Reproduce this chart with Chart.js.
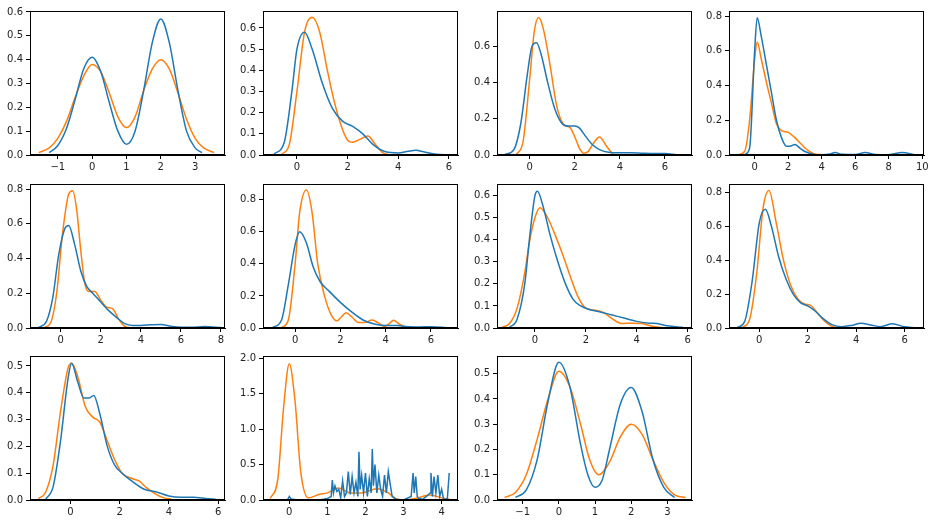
<!DOCTYPE html>
<html><head><meta charset="utf-8">
<script src="https://cdn.jsdelivr.net/npm/chart.js@4/dist/chart.umd.min.js"></script>
<style>body{margin:0;background:#fff;width:936px;height:524px;position:relative;overflow:hidden}canvas{position:absolute}</style>
</head><body>
<script>
const BLUE='#1f77b4', ORANGE='#ff7f0e';
// subplot 1
const p1bx=[-1.25,-1,-0.75,-0.5,-0.25,0,0.25,0.5,0.75,1,1.25,1.5,1.75,2,2.25,2.5,2.75,3,3.2];
const p1by=[0.01,0.04,0.11,0.23,0.36,0.41,0.35,0.22,0.10,0.045,0.10,0.27,0.47,0.57,0.47,0.27,0.10,0.03,0.01];
const p1ox=[-1.55,-1.25,-1,-0.75,-0.5,-0.25,0,0.25,0.5,0.75,1,1.25,1.5,1.75,2,2.25,2.5,2.75,3,3.25,3.55];
const p1oy=[0.01,0.03,0.07,0.14,0.24,0.33,0.38,0.35,0.26,0.16,0.115,0.16,0.27,0.36,0.40,0.36,0.26,0.15,0.07,0.03,0.01];
// subplot 2
const p2bx=[-0.9,-0.5,-0.2,0,0.3,0.6,1,1.4,1.8,2.2,2.6,3,3.5,4,4.4,4.7,5,5.5,6];
const p2by=[0.005,0.06,0.3,0.5,0.58,0.5,0.34,0.22,0.16,0.135,0.1,0.05,0.015,0.01,0.018,0.022,0.015,0.003,0.0];
const p2ox=[-0.6,-0.3,0,0.3,0.6,0.9,1.2,1.5,1.8,2.0,2.2,2.5,2.8,3.1,3.4,3.6];
const p2oy=[0.003,0.05,0.3,0.58,0.65,0.58,0.4,0.24,0.12,0.07,0.06,0.075,0.09,0.05,0.01,0.002];
// subplot 3
const p3bx=[-1.1,-0.7,-0.4,-0.1,0.1,0.3,0.5,0.8,1.1,1.4,1.7,2.0,2.2,2.5,2.8,3.1,3.5,4,4.5,5,5.5,6,6.5];
const p3by=[0.003,0.03,0.17,0.45,0.6,0.62,0.56,0.4,0.26,0.18,0.16,0.16,0.15,0.1,0.055,0.03,0.015,0.012,0.013,0.01,0.008,0.008,0.002];
const p3ox=[-0.6,-0.3,0,0.2,0.4,0.6,0.9,1.2,1.5,1.8,2.0,2.2,2.4,2.6,2.8,3.1,3.4,3.7];
const p3oy=[0.003,0.07,0.42,0.68,0.76,0.7,0.5,0.27,0.17,0.15,0.1,0.04,0.01,0.02,0.06,0.1,0.05,0.002];
// subplot 4
const p4bx=[-0.6,-0.3,0,0.15,0.4,0.7,1,1.3,1.6,1.9,2.1,2.4,2.7,3,3.5,4,4.5,4.8,5.2,6,6.6,7.2,8,8.8,9.5];
const p4by=[0.002,0.04,0.6,0.79,0.68,0.52,0.36,0.2,0.1,0.05,0.05,0.06,0.04,0.02,0.005,0.002,0.006,0.015,0.004,0.003,0.015,0.003,0.002,0.015,0.003];
const p4ox=[-1,-0.6,-0.3,0,0.15,0.4,0.7,1,1.3,1.6,2,2.4,2.8,3.2,3.6,4];
const p4oy=[0.002,0.02,0.2,0.55,0.65,0.55,0.42,0.3,0.18,0.14,0.13,0.1,0.06,0.025,0.005,0.002];
// subplot 5
const p5bx=[-1.1,-0.7,-0.4,-0.1,0.2,0.4,0.7,1,1.3,1.6,2,2.4,2.8,3.2,3.6,4,4.5,5,5.5,6,6.5,7.2,8];
const p5by=[0.003,0.04,0.17,0.42,0.57,0.59,0.48,0.33,0.24,0.2,0.15,0.1,0.06,0.025,0.015,0.015,0.018,0.02,0.01,0.004,0.004,0.008,0.003];
const p5ox=[-0.8,-0.5,-0.2,0.1,0.4,0.6,0.8,1.0,1.2,1.4,1.7,2,2.3,2.6,2.9,3.2,3.5];
const p5oy=[0.003,0.03,0.2,0.55,0.77,0.79,0.68,0.45,0.26,0.21,0.21,0.16,0.12,0.11,0.05,0.01,0.002];
// subplot 6
const p6bx=[-1,-0.6,-0.3,0,0.2,0.5,0.8,1.1,1.5,2,2.5,3,3.5,4,4.5,5,5.5,6,6.7];
const p6by=[0.003,0.05,0.27,0.52,0.6,0.53,0.38,0.29,0.23,0.16,0.1,0.05,0.025,0.015,0.015,0.008,0.007,0.008,0.002];
const p6ox=[-0.6,-0.3,0,0.2,0.5,0.75,1.0,1.3,1.6,1.85,2.05,2.25,2.5,2.8,3.1,3.4,3.7,3.95,4.15,4.35,4.6,4.9];
const p6oy=[0.003,0.05,0.4,0.72,0.86,0.72,0.4,0.2,0.08,0.045,0.07,0.095,0.07,0.035,0.035,0.05,0.03,0.01,0.025,0.048,0.025,0.002];
// subplot 7
const p7bx=[-1.0,-0.7,-0.4,-0.2,0,0.1,0.3,0.6,0.9,1.2,1.5,1.8,2.1,2.5,3,3.5,4,4.5,4.8,5.2,5.8];
const p7by=[0.003,0.04,0.2,0.42,0.6,0.62,0.56,0.42,0.3,0.2,0.13,0.1,0.085,0.075,0.06,0.045,0.03,0.022,0.02,0.01,0.003];
const p7ox=[-1.3,-1,-0.7,-0.4,-0.2,0,0.2,0.5,0.8,1.1,1.4,1.7,2,2.4,2.7,3,3.4,3.8,4.2,4.6,5];
const p7oy=[0.003,0.02,0.09,0.25,0.4,0.5,0.545,0.5,0.42,0.33,0.23,0.14,0.09,0.08,0.07,0.045,0.02,0.022,0.02,0.008,0.002];
// subplot 8
const p8bx=[-0.9,-0.6,-0.3,0,0.25,0.5,0.8,1.1,1.4,1.7,2,2.3,2.6,3,3.4,3.8,4.2,4.6,5,5.5,6,6.4];
const p8by=[0.003,0.04,0.27,0.62,0.7,0.6,0.42,0.29,0.2,0.15,0.13,0.1,0.06,0.02,0.008,0.015,0.028,0.018,0.008,0.025,0.007,0.002];
const p8ox=[-0.7,-0.4,-0.1,0.15,0.4,0.7,1,1.3,1.6,1.9,2.1,2.4,2.7,3,3.2];
const p8oy=[0.003,0.05,0.33,0.7,0.81,0.62,0.4,0.25,0.17,0.14,0.135,0.09,0.04,0.01,0.002];
// subplot 9
const p9bx=[-1,-0.7,-0.4,-0.1,0.05,0.3,0.55,0.75,0.95,1.2,1.5,1.8,2.1,2.5,3,3.5,4,4.5,5,5.5,5.9];
const p9by=[0.003,0.05,0.22,0.45,0.51,0.44,0.38,0.38,0.39,0.32,0.2,0.13,0.1,0.07,0.04,0.03,0.015,0.01,0.01,0.006,0.003];
const p9ox=[-1.3,-1,-0.7,-0.4,-0.1,0.05,0.3,0.6,0.9,1.2,1.5,1.8,2.1,2.5,2.8,3.1,3.5,3.8,4.1];
const p9oy=[0.005,0.03,0.13,0.33,0.49,0.51,0.46,0.35,0.31,0.29,0.22,0.15,0.1,0.08,0.07,0.045,0.02,0.008,0.003];
// subplot 10
const p10bx=[-0.05,0,0.05,0.1,0.2,0.5,0.8,1.0,1.1,1.13,1.16,1.2,1.25,1.3,1.35,1.4,1.45,1.5,1.55,1.6,1.65,1.7,1.75,1.8,1.83,1.86,1.9,1.95,2.0,2.05,2.1,2.15,2.18,2.21,2.25,2.3,2.35,2.4,2.45,2.5,2.55,2.6,2.7,2.8,3.0,3.2,3.25,3.28,3.32,3.36,3.4,3.5,3.6,3.7,3.72,3.76,3.8,3.85,3.9,3.95,4.0,4.05,4.1,4.15,4.2];
const p10by=[0,0.05,0.01,0.01,0,0,0,0.02,0.05,0.28,0.1,0.2,0.12,0.15,0.03,0.27,0.05,0.1,0.4,0.08,0.33,0.1,0.25,0.05,0.68,0.15,0.35,0.1,0.38,0.05,0.3,0.1,0.72,0.2,0.5,0.1,0.35,0.15,0.05,0.35,0.1,0.4,0.05,0.01,0,0.05,0.38,0.1,0.33,0.05,0.02,0.01,0.05,0.1,0.38,0.05,0.33,0.1,0.35,0.05,0.15,0.02,0.01,0.02,0.38];
const p10ox=[-0.5,-0.3,-0.15,0,0.15,0.3,0.5,0.8,1,1.3,1.6,1.9,2.3,2.6,2.8,3,3.3,3.7,4,4.2];
const p10oy=[0.02,0.3,1.3,1.92,1.4,0.4,0.03,0.08,0.1,0.17,0.1,0.1,0.16,0.1,0.02,0.0,0.02,0.07,0.03,0.01];
// subplot 11
const p11bx=[-1.2,-0.9,-0.6,-0.3,0,0.3,0.6,0.8,1,1.2,1.4,1.7,2,2.3,2.6,2.9,3.2];
const p11by=[0.01,0.04,0.16,0.39,0.545,0.45,0.22,0.1,0.05,0.08,0.2,0.38,0.445,0.35,0.16,0.05,0.01];
const p11ox=[-1.5,-1.2,-0.9,-0.6,-0.3,0,0.3,0.6,0.85,1.1,1.4,1.7,2,2.3,2.6,2.9,3.2,3.5];
const p11oy=[0.01,0.03,0.1,0.24,0.4,0.51,0.45,0.3,0.16,0.1,0.15,0.25,0.3,0.26,0.16,0.07,0.02,0.01];

const xt1=[-1,0,1,2,3], xt6=[0,2,4,6], xt8=[0,2,4,6,8], xt10=[0,2,4,6,8,10], xt4=[0,1,2,3,4];
const yt01=[0,0.1,0.2,0.3,0.4,0.5,0.6], yt02=[0,0.2,0.4,0.6], yt08=[0,0.2,0.4,0.6,0.8], yt05=[0,0.1,0.2,0.3,0.4,0.5], yt2=[0,0.5,1,1.5,2];

const COLS=[30,263,497,729], ROWS=[11,183.5,356], W=195, H=144;
const plots=[
 {c:0,r:0,xr:[-1.81,3.87],xt:xt1,ym:0.604,yt:yt01,b:[p1bx,p1by],o:[p1ox,p1oy]},
 {c:1,r:0,xr:[-1.34,6.36],xt:xt6,ym:0.68,yt:yt01,b:[p2bx,p2by],o:[p2ox,p2oy]},
 {c:2,r:0,xr:[-1.45,7.2],xt:xt6,ym:0.796,yt:yt02,b:[p3bx,p3by],o:[p3ox,p3oy]},
 {c:3,r:0,xr:[-1.53,10.1],xt:xt10,ym:0.829,yt:yt08,b:[p4bx,p4by],o:[p4ox,p4oy]},
 {c:0,r:1,xr:[-1.53,8.2],xt:xt8,ym:0.829,yt:yt08,b:[p5bx,p5by],o:[p5ox,p5oy]},
 {c:1,r:1,xr:[-1.42,7.2],xt:xt6,ym:0.898,yt:yt08,b:[p6bx,p6by],o:[p6ox,p6oy]},
 {c:2,r:1,xr:[-1.49,6.17],xt:xt6,ym:0.653,yt:yt01,b:[p7bx,p7by],o:[p7ox,p7oy]},
 {c:3,r:1,xr:[-1.25,6.8],xt:xt6,ym:0.849,yt:yt08,b:[p8bx,p8by],o:[p8ox,p8oy]},
 {c:0,r:2,xr:[-1.64,6.28],xt:xt6,ym:0.537,yt:yt05,b:[p9bx,p9by],o:[p9ox,p9oy]},
 {c:1,r:2,xr:[-0.69,4.43],xt:xt4,ym:2.03,yt:yt2,b:[p10bx,p10by],o:[p10ox,p10oy],spiky:true},
 {c:2,r:2,xr:[-1.71,3.68],xt:xt1,ym:0.570,yt:yt05,b:[p11bx,p11by],o:[p11ox,p11oy]},
];
const LW=45, BH=26, PT=10, PR=10;
const frame={id:'frame',afterDraw(ch){const a=ch.chartArea,c=ch.ctx;c.save();c.strokeStyle='#000';c.lineWidth=1;c.strokeRect(Math.round(a.left)+0.5,Math.round(a.top)+0.5,Math.round(a.right-a.left)-1,Math.round(a.bottom-a.top)-1);c.restore();}};
const fmtX=v=>(v<0?'\u2212'+Math.abs(v):String(v));
const font={family:'DejaVu Sans',size:10};
plots.forEach(p=>{
  const cv=document.createElement('canvas');
  const L=COLS[p.c]-LW, T=ROWS[p.r]-PT, w=W+LW+PR, h=H+PT+BH;
  cv.style.left=L+'px';cv.style.top=T+'px';cv.style.width=w+'px';cv.style.height=h+'px';
  cv.width=w;cv.height=h;document.body.appendChild(cv);
  const mk=(xs,ys)=>xs.map((x,i)=>({x,y:ys[i]}));
  new Chart(cv,{type:'line',plugins:[frame],
   data:{datasets:[
    {data:mk(p.b[0],p.b[1]),borderColor:BLUE,borderWidth:1.5,pointRadius:0,tension:p.spiky?0:0.4,cubicInterpolationMode:p.spiky?'default':'monotone',fill:false},
    {data:mk(p.o[0],p.o[1]),borderColor:ORANGE,borderWidth:1.5,pointRadius:0,tension:0.4,cubicInterpolationMode:'monotone',fill:false}]},
   options:{responsive:false,animation:false,devicePixelRatio:1,layout:{padding:{top:PT,right:PR,left:0,bottom:0}},
    plugins:{legend:{display:false},tooltip:{enabled:false}},
    scales:{
     x:{type:'linear',min:p.xr[0],max:p.xr[1],afterFit(s){s.height=BH;},afterBuildTicks(s){s.ticks=p.xt.map(v=>({value:v}));},
        grid:{drawOnChartArea:false,drawTicks:true,tickLength:4,tickColor:'#000'},border:{color:'#000'},
        ticks:{color:'#222',font,padding:2,maxRotation:0,autoSkip:false,callback:v=>fmtX(v)}},
     y:{type:'linear',min:0,max:p.ym,afterFit(s){s.width=LW;},afterBuildTicks(s){s.ticks=p.yt.map(v=>({value:v}));},
        grid:{drawOnChartArea:false,drawTicks:true,tickLength:4,tickColor:'#000'},border:{color:'#000'},
        ticks:{color:'#222',font,padding:3,autoSkip:false,callback:v=>Number(v).toFixed(1)}}}}});
});
</script>
</body></html>
